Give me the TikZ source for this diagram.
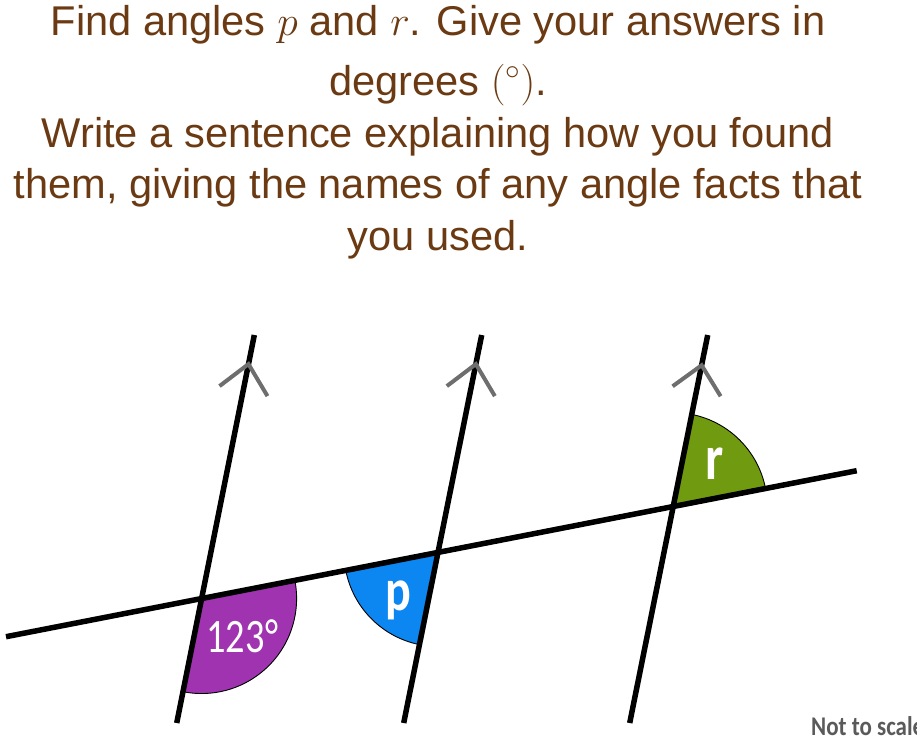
\RequirePackage{fix-cm}
\documentclass[tikz,border=0pt]{standalone}
\usepackage{fontspec}
\setmainfont{Liberation Sans}
\newfontfamily\labfont[FakeStretch=0.8]{Carlito}
\newfontfamily\notefont[FakeStretch=0.85]{Carlito}
\usetikzlibrary{calc}
\definecolor{qbrown}{RGB}{107,58,18}
\definecolor{apurple}{RGB}{160,52,176}
\definecolor{ablue}{RGB}{12,134,240}
\definecolor{agreen}{RGB}{112,154,16}
\definecolor{chevgray}{RGB}{110,110,110}
\definecolor{notegray}{RGB}{90,90,90}
\begin{document}
\begin{tikzpicture}[x=1pt,y=-1pt,
  qtext/.style={text=qbrown, font=\fontsize{41.6}{50}\selectfont, anchor=base, inner sep=0pt},
  bigline/.style={line width=5.5pt, black},
  chev/.style={line width=4pt, chevgray},
  sector/.style={draw=black, line width=0.9pt},
  lab/.style={text=white, inner sep=0pt}
]
\clip (0,0) rectangle (917,745);
\fill[white] (0,0) rectangle (917,745);

% question text
\node[qtext] (q1) at (438,35) {Find angles $p$ and $r$. Give your answers in};
\node[qtext] (q2) at (438,95) {degrees $(^\circ)$.};
\node[qtext] (q3) at (438,147) {Write a sentence explaining how you found};
\node[qtext] (q4) at (438,198) {them, giving the names of any angle facts that};
\node[qtext] (q5) at (438,250) {you used.};

% geometry
\coordinate (tL) at (6,636.7);
\coordinate (tR) at (856.7,470.7);
\coordinate (a1) at (254.3,335);
\coordinate (b1) at (176.7,723);
\coordinate (a2) at (481.7,335);
\coordinate (b2) at (403.7,723);
\coordinate (a3) at (707.7,335);
\coordinate (b3) at (629.7,723);
\coordinate (I1) at (intersection of tL--tR and a1--b1);
\coordinate (I2) at (intersection of tL--tR and a2--b2);
\coordinate (I3) at (intersection of tL--tR and a3--b3);

% angle sectors
\filldraw[sector, fill=apurple] (I1) -- ++(-11.04:95) arc[start angle=-11.04, end angle=101.37, radius=95] -- cycle;
\filldraw[sector, fill=ablue] (I2) -- ++(101.37:94) arc[start angle=101.37, end angle=168.96, radius=94] -- cycle;
\filldraw[sector, fill=agreen] (I3) -- ++(-78.63:94) arc[start angle=-78.63, end angle=-11.04, radius=94] -- cycle;

% lines
\draw[bigline] (tL) -- (tR);
\draw[bigline] (a1) -- (b1);
\draw[bigline] (a2) -- (b2);
\draw[bigline] (a3) -- (b3);

% parallel chevrons
\coordinate (c1) at ($(a1)!0.075!(b1)$);
\coordinate (c2) at ($(a2)!0.075!(b2)$);
\coordinate (c3) at ($(a3)!0.078!(b3)$);
\draw[chev] ($(c1)+(-29,22)$) -- (c1) -- ++(19,32);
\draw[chev] ($(c2)+(-29,22)$) -- (c2) -- ++(19,32);
\draw[chev] ($(c3)+(-29,21)$) -- (c3) -- ++(19,31);

% labels
\node[lab, anchor=base west, font=\labfont\fontsize{48}{50}\selectfont] (l123) at (206,652) {123\kern1pt°};
\node[lab, font=\labfont\bfseries\fontsize{60}{60}\selectfont] (lp) at (398.5,600) {p};
\node[lab, font=\labfont\bfseries\fontsize{64}{64}\selectfont] (lr) at (715,463.5) {r};

\node[anchor=base west, inner sep=0pt, text=notegray, font=\notefont\bfseries\fontsize{27}{29}\selectfont] (note) at (811,735) {Not to scale};
\end{tikzpicture}
\end{document}
